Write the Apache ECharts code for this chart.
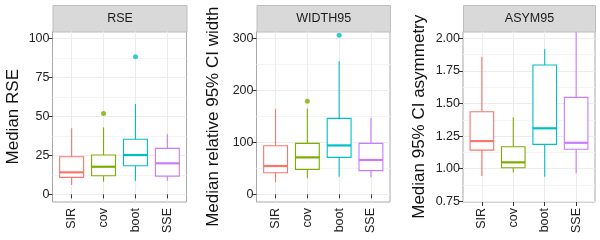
<!DOCTYPE html>
<html>
<head>
<meta charset="utf-8">
<script src="https://cdn.jsdelivr.net/npm/echarts@6/dist/echarts.min.js"></script>
<style>
  html, body { margin: 0; padding: 0; background: #fff; }
  #chart { width: 600px; height: 240px; }
</style>
</head>
<body>
<div id="chart"></div>
<script>
// categories shared by all three facets
const categories = ['SIR', 'cov', 'boot', 'SSE']
const colors = ['#F8766D', '#7CAE00', '#00BFC4', '#C77CFF']

// [min, Q1, median, Q3, max] per category
const rseStats = [
  [6.0, 10.9, 14.1, 24.1, 42.3],
  [8.1, 11.9, 17.7, 25.2, 42.9],
  [8.7, 18.3, 25.2, 35.3, 57.9],
  [8.7, 11.7, 19.9, 29.5, 38.7]
]
const rseOutliers = [['cov', 51.9], ['boot', 88.2]]
const rseTicks = [0, 25, 50, 75, 100]

const widthStats = [
  [23, 41.5, 54.4, 93.5, 164],
  [30.8, 48, 71, 98, 165],
  [34, 71, 94, 146, 256],
  [32.7, 45.5, 66, 98, 147]
]
const widthOutliers = [['cov', 179], ['boot', 306]]
const widthTicks = [0, 100, 200, 300]

const asymStats = [
  [0.944, 1.143, 1.212, 1.437, 1.859],
  [0.972, 1.008, 1.049, 1.169, 1.394],
  [0.939, 1.187, 1.310, 1.795, 1.918],
  [0.965, 1.149, 1.199, 1.547, 2.05]
]
const asymOutliers = []
const asymTicks = [0.75, 1.00, 1.25, 1.50, 1.75, 2.00]

const FONT = "'Liberation Sans', Arial, sans-serif"

const panels = [
  { strip: 'RSE', title: 'Median RSE', stats: rseStats, outliers: rseOutliers, ticks: rseTicks,
    min: -4.9, max: 104.4, left: 52.5, width: 134, nameGap: 31, digits: 0 },
  { strip: 'WIDTH95', title: 'Median relative 95% CI width', stats: widthStats, outliers: widthOutliers, ticks: widthTicks,
    min: -14.8, max: 313.1, left: 256.5, width: 133.5, nameGap: 35, digits: 0 },
  { strip: 'ASYM95', title: 'Median 95% CI asymmetry', stats: asymStats, outliers: asymOutliers, ticks: asymTicks,
    min: 0.745, max: 2.052, left: 463, width: 132, nameGap: 35, digits: 2 }
]

const TOP = 31.5
const HEIGHT = 170.5
const BOX_WIDTH = 0.75

const midpoints = (ticks) => {
  const out = []
  for (let i = 0; i < ticks.length - 1; i++) out.push((ticks[i] + ticks[i + 1]) / 2)
  return out
}

const renderBox = (params, api) => {
  const x = api.value(0)
  const p = [1, 2, 3, 4, 5].map(i => api.coord([x, api.value(i)]))
  const half = api.size([BOX_WIDTH, 0])[0] / 2
  const color = colors[params.dataIndex]
  const cx = p[0][0]
  return {
    type: 'group',
    children: [
      { type: 'line', shape: { x1: cx, y1: p[3][1], x2: cx, y2: p[4][1] }, style: { stroke: color, lineWidth: 1.1 } },
      { type: 'line', shape: { x1: cx, y1: p[1][1], x2: cx, y2: p[0][1] }, style: { stroke: color, lineWidth: 1.1 } },
      { type: 'rect', shape: { x: cx - half, y: p[3][1], width: half * 2, height: p[1][1] - p[3][1] },
        style: { fill: '#fff', stroke: color, lineWidth: 1.1 } },
      { type: 'line', shape: { x1: cx - half, y1: p[2][1], x2: cx + half, y2: p[2][1] }, style: { stroke: color, lineWidth: 2.2 } }
    ]
  }
}

const chart = echarts.init(document.getElementById('chart'), null, { renderer: 'canvas' })

const grid = []
const xAxis = []
const yAxis = []
const series = []
const graphic = []

panels.forEach((pn, k) => {
  grid.push({ left: pn.left, top: TOP, width: pn.width, height: HEIGHT,
    show: true, borderColor: '#a8a8a8', borderWidth: 1, backgroundColor: '#fff' })

  xAxis.push({
    type: 'value', gridIndex: k, min: 0.4, max: 4.6,
    axisLine: { show: false },
    axisTick: { show: true, length: 4, customValues: [1, 2, 3, 4], lineStyle: { color: '#333' } },
    axisLabel: { customValues: [1, 2, 3, 4], rotate: 90, margin: 6, color: '#222',
      fontFamily: FONT, fontSize: 12.5, formatter: v => categories[Math.round(v) - 1] },
    splitLine: { show: true, lineStyle: { color: '#ececec', width: 1 } }
  })

  yAxis.push({
    type: 'value', gridIndex: k, min: pn.min, max: pn.max,
    name: pn.title, nameLocation: 'middle', nameGap: pn.nameGap, nameRotate: 90,
    nameTextStyle: { fontFamily: FONT, fontSize: 17, color: '#111' },
    axisLine: { show: false },
    axisTick: { show: true, length: 4, customValues: pn.ticks, lineStyle: { color: '#333' } },
    axisLabel: { customValues: pn.ticks, margin: 3, color: '#222', fontFamily: FONT, fontSize: 12.5,
      formatter: v => v.toFixed(pn.digits) },
    splitLine: { show: true, lineStyle: { color: '#ececec', width: 1 } }
  })
})

// minor grid lines on hidden twin axes
panels.forEach((pn, k) => {
  yAxis.push({
    type: 'value', gridIndex: k, min: pn.min, max: pn.max, position: 'left',
    axisLine: { show: false },
    axisTick: { show: false, customValues: midpoints(pn.ticks) },
    axisLabel: { show: false },
    splitLine: { show: true, lineStyle: { color: '#f4f4f4', width: 1 } }
  })
})

panels.forEach((pn, k) => {
  series.push({
    type: 'custom', xAxisIndex: k, yAxisIndex: k, z: 3,
    renderItem: renderBox,
    data: pn.stats.map((s, i) => [i + 1, ...s])
  })
  series.push({
    type: 'scatter', xAxisIndex: k, yAxisIndex: k, z: 4, symbolSize: 5,
    data: pn.outliers.map(([cat, v]) => {
      const i = categories.indexOf(cat)
      return { value: [i + 1, v], itemStyle: { color: colors[i] } }
    })
  })

  // facet strip
  graphic.push({
    type: 'group', left: pn.left, top: 5,
    children: [
      { type: 'rect', shape: { x: 0, y: 0, width: pn.width, height: TOP - 5 },
        style: { fill: '#d9d9d9', stroke: '#bdbdbd', lineWidth: 1 } },
      { type: 'text', x: pn.width / 2, y: (TOP - 5) / 2,
        style: { text: pn.strip, fill: '#1a1a1a', font: '12.5px ' + FONT, align: 'center', verticalAlign: 'middle' } }
    ]
  })
})

chart.setOption({
  animation: false,
  backgroundColor: '#fff',
  grid,
  xAxis,
  yAxis,
  series,
  graphic
})
</script>
</body>
</html>
